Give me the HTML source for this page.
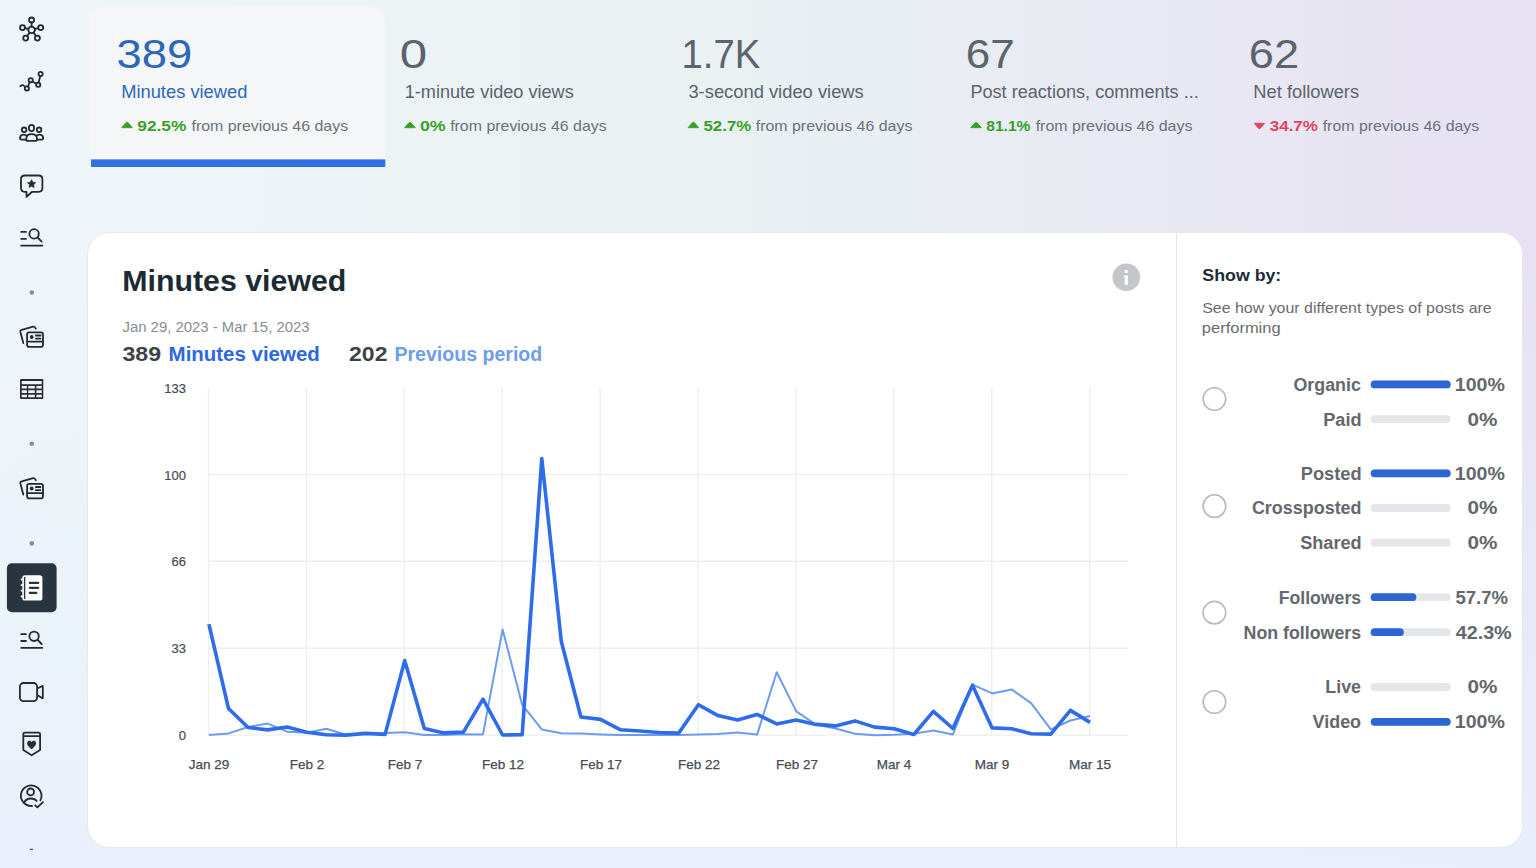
<!DOCTYPE html>
<html><head><meta charset="utf-8">
<style>
html,body{margin:0;padding:0;width:1536px;height:868px;overflow:hidden;}
body{font-family:"Liberation Sans",sans-serif;background:#edf2f5;}
#bg{position:absolute;left:0;top:0;width:1536px;height:868px;
background:linear-gradient(90deg,#eef6f9 0%,#e9f1f3 48%,#e7e1f2 100%);}
#bg2{position:absolute;left:0;top:0;width:1536px;height:868px;
background:linear-gradient(180deg,rgba(233,240,252,0) 0%,rgba(233,240,252,0) 25%,rgba(233,240,252,0.9) 100%);}
svg{position:absolute;left:0;top:0;}
</style></head>
<body>
<div id="bg"></div><div id="bg2"></div>
<svg width="1536" height="868" viewBox="0 0 1536 868" font-family="Liberation Sans, sans-serif">
<defs><filter id="sb" x="-5%" y="-5%" width="110%" height="110%"><feGaussianBlur stdDeviation="1.3"/></filter></defs>
<path d="M89.5,159.5 V22.5 A16,16 0 0 1 105.5,6.5 H369.3 A16,16 0 0 1 385.3,22.5 V159.5 Z" fill="#f5f6f8" filter="url(#sb)"/>
<rect x="91" y="159.4" width="294.3" height="7.6" fill="#3370e5"/>
<text x="116.50" y="67.8" font-size="40" fill="#2c68b6" textLength="75.69" lengthAdjust="spacingAndGlyphs">389</text>
<text x="121.19" y="98.4" font-size="18" fill="#2c68b6" textLength="126.20" lengthAdjust="spacingAndGlyphs">Minutes viewed</text>
<path d="M121.8,127.7 L125.7,123.1 Q127.1,121.6 128.5,123.1 L132.3,127.7 Z" fill="#3a9f2a" stroke="#3a9f2a" stroke-width="0.9" stroke-linejoin="round"/>
<text x="137.29" y="131" font-size="15" font-weight="bold" fill="#3a9f2a" textLength="49.15" lengthAdjust="spacingAndGlyphs">92.5%</text>
<text x="191.46" y="131" font-size="14.5" fill="#6c7178" textLength="156.71" lengthAdjust="spacingAndGlyphs">from previous 46 days</text>
<text x="399.73" y="67.8" font-size="40" fill="#5b636b" textLength="27.37" lengthAdjust="spacingAndGlyphs">0</text>
<text x="404.74" y="98.4" font-size="18" fill="#5b636b" textLength="168.99" lengthAdjust="spacingAndGlyphs">1-minute video views</text>
<path d="M404.7,127.7 L408.6,123.1 Q410.0,121.6 411.4,123.1 L415.2,127.7 Z" fill="#3a9f2a" stroke="#3a9f2a" stroke-width="0.9" stroke-linejoin="round"/>
<text x="419.99" y="131" font-size="15" font-weight="bold" fill="#3a9f2a" textLength="25.71" lengthAdjust="spacingAndGlyphs">0%</text>
<text x="450.16" y="131" font-size="14.5" fill="#6c7178" textLength="156.51" lengthAdjust="spacingAndGlyphs">from previous 46 days</text>
<text x="681.43" y="67.8" font-size="40" fill="#5b636b" textLength="78.84" lengthAdjust="spacingAndGlyphs">1.7K</text>
<text x="688.41" y="98.4" font-size="18" fill="#5b636b" textLength="175.34" lengthAdjust="spacingAndGlyphs">3-second video views</text>
<path d="M688.1,127.7 L692.0,123.1 Q693.4,121.6 694.8,123.1 L698.6,127.7 Z" fill="#3a9f2a" stroke="#3a9f2a" stroke-width="0.9" stroke-linejoin="round"/>
<text x="703.49" y="131" font-size="15" font-weight="bold" fill="#3a9f2a" textLength="47.74" lengthAdjust="spacingAndGlyphs">52.7%</text>
<text x="755.76" y="131" font-size="14.5" fill="#6c7178" textLength="156.61" lengthAdjust="spacingAndGlyphs">from previous 46 days</text>
<text x="965.80" y="67.8" font-size="40" fill="#5b636b" textLength="49.01" lengthAdjust="spacingAndGlyphs">67</text>
<text x="970.41" y="98.4" font-size="18" fill="#5b636b" textLength="228.34" lengthAdjust="spacingAndGlyphs">Post reactions, comments ...</text>
<path d="M970.8,127.7 L974.7,123.1 Q976.1,121.6 977.5,123.1 L981.3,127.7 Z" fill="#3a9f2a" stroke="#3a9f2a" stroke-width="0.9" stroke-linejoin="round"/>
<text x="986.19" y="131" font-size="15" font-weight="bold" fill="#3a9f2a" textLength="44.31" lengthAdjust="spacingAndGlyphs">81.1%</text>
<text x="1035.66" y="131" font-size="14.5" fill="#6c7178" textLength="156.71" lengthAdjust="spacingAndGlyphs">from previous 46 days</text>
<text x="1248.74" y="67.8" font-size="40" fill="#5b636b" textLength="50.33" lengthAdjust="spacingAndGlyphs">62</text>
<text x="1253.39" y="98.4" font-size="18" fill="#5b636b" textLength="105.75" lengthAdjust="spacingAndGlyphs">Net followers</text>
<path d="M1254.3,123.3 L1264.6,123.3 L1260.8,127.9 Q1259.5,129.4 1258.1,127.9 Z" fill="#e2445c" stroke="#e2445c" stroke-width="0.9" stroke-linejoin="round"/>
<text x="1269.72" y="131" font-size="15" font-weight="bold" fill="#e2445c" textLength="48.22" lengthAdjust="spacingAndGlyphs">34.7%</text>
<text x="1322.66" y="131" font-size="14.5" fill="#6c7178" textLength="156.61" lengthAdjust="spacingAndGlyphs">from previous 46 days</text>
<rect x="87.5" y="232.5" width="1435" height="615" rx="22" fill="#ffffff" stroke="#e6e8ec" stroke-width="1"/>
<line x1="1176.5" y1="233" x2="1176.5" y2="848" stroke="#e6e7ea" stroke-width="1"/>
<text x="122.25" y="290.8" font-size="29.5" font-weight="bold" fill="#1c2b33" textLength="224.14" lengthAdjust="spacingAndGlyphs">Minutes viewed</text>
<text x="122.48" y="331.8" font-size="14" fill="#8a8d91" textLength="187.08" lengthAdjust="spacingAndGlyphs">Jan 29, 2023 - Mar 15, 2023</text>
<text x="122.48" y="360.5" font-size="20" font-weight="bold" fill="#3e4246" textLength="38.66" lengthAdjust="spacingAndGlyphs">389</text>
<text x="168.62" y="360.5" font-size="20" font-weight="bold" fill="#2d68e0" textLength="151.13" lengthAdjust="spacingAndGlyphs">Minutes viewed</text>
<text x="349.09" y="360.5" font-size="20" font-weight="bold" fill="#3e4246" textLength="38.39" lengthAdjust="spacingAndGlyphs">202</text>
<text x="394.38" y="360.5" font-size="20" font-weight="bold" fill="#6d9deb" textLength="147.90" lengthAdjust="spacingAndGlyphs">Previous period</text>
<text x="1202.37" y="281" font-size="16" font-weight="bold" fill="#1c2b33" textLength="78.91" lengthAdjust="spacingAndGlyphs">Show by:</text>
<text x="1202.18" y="312.9" font-size="14.5" fill="#676b70" textLength="289.52" lengthAdjust="spacingAndGlyphs">See how your different types of posts are</text>
<text x="1201.83" y="332.5" font-size="14.5" fill="#676b70" textLength="78.80" lengthAdjust="spacingAndGlyphs">performing</text>
<circle cx="1126.3" cy="277.3" r="13.8" fill="#c4c6ca"/>
<rect x="1124.7" y="270.1" width="3.2" height="2.9" rx="0.8" fill="#ffffff"/>
<path d="M1123.8,275.4 H1127.9 V284.3 Q1127.9,285.1 1127.1,285.1 H1125.5 Q1124.7,285.1 1124.7,284.3 V276.8 H1123.8 Z" fill="#ffffff"/>
<g stroke="#eeeef0" stroke-width="1.4" fill="none">
<line x1="208" y1="474.4" x2="1128" y2="474.4"/>
<line x1="208" y1="561.3" x2="1128" y2="561.3"/>
<line x1="208" y1="648.2" x2="1128" y2="648.2"/>
<line x1="208" y1="735.1" x2="1128" y2="735.1"/>
<line x1="208.5" y1="387.6" x2="208.5" y2="735"/>
<line x1="306.4" y1="387.6" x2="306.4" y2="735"/>
<line x1="404.3" y1="387.6" x2="404.3" y2="735"/>
<line x1="502.2" y1="387.6" x2="502.2" y2="735"/>
<line x1="600.1" y1="387.6" x2="600.1" y2="735"/>
<line x1="698.0" y1="387.6" x2="698.0" y2="735"/>
<line x1="795.9" y1="387.6" x2="795.9" y2="735"/>
<line x1="893.8" y1="387.6" x2="893.8" y2="735"/>
<line x1="991.7" y1="387.6" x2="991.7" y2="735"/>
<line x1="1089.6" y1="387.6" x2="1089.6" y2="735"/>
</g>
<g font-size="13" fill="#484c53" stroke="#484c53" stroke-width="0.2" text-anchor="end">
<text x="186" y="392.9">133</text>
<text x="186" y="479.6">100</text>
<text x="186" y="566.4">66</text>
<text x="186" y="653.2">33</text>
<text x="186" y="740.4">0</text>
</g>
<g font-size="13.5" fill="#484c53" stroke="#484c53" stroke-width="0.25" text-anchor="middle">
<text x="209" y="769">Jan 29</text>
<text x="307" y="769">Feb 2</text>
<text x="405" y="769">Feb 7</text>
<text x="503" y="769">Feb 12</text>
<text x="601" y="769">Feb 17</text>
<text x="699" y="769">Feb 22</text>
<text x="797" y="769">Feb 27</text>
<text x="894" y="769">Mar 4</text>
<text x="992" y="769">Mar 9</text>
<text x="1090" y="769">Mar 15</text>
</g>
<polyline fill="none" stroke="#6c9ded" stroke-width="2" stroke-linejoin="round" stroke-linecap="butt" points="208.9,735.1 228.5,733.4 248.1,727.0 267.6,723.6 287.2,731.7 306.8,732.7 326.4,728.7 346.0,734.8 365.5,733.9 385.1,733.0 404.7,732.2 424.3,735.0 443.9,735.0 463.4,734.3 483.0,734.4 502.6,629.4 522.2,704.9 541.8,729.4 561.3,733.2 580.9,733.6 600.5,734.5 620.1,735.0 639.7,735.0 659.2,735.0 678.8,735.0 698.4,734.6 718.0,734.0 737.6,732.5 757.1,734.6 776.7,672.2 796.3,711.4 815.9,724.5 835.5,728.5 855.0,733.8 874.6,735.2 894.2,734.8 913.8,733.8 933.4,730.5 952.9,734.5 972.5,684.6 992.1,693.4 1011.7,689.4 1031.3,703.4 1050.8,729.4 1070.4,720.5 1090.0,716.0"/>
<polyline fill="none" stroke="#2e6cea" stroke-width="3.6" stroke-linejoin="round" stroke-linecap="butt" points="208.9,624.2 228.5,708.5 248.1,727.5 267.6,729.9 287.2,727.0 306.8,732.2 326.4,734.8 346.0,735.1 365.5,733.4 385.1,734.4 404.7,660.6 424.3,728.6 443.9,732.9 463.4,732.1 483.0,699.2 502.6,735.0 522.2,734.6 541.8,458.6 561.3,641.5 580.9,717.0 600.5,719.4 620.1,729.7 639.7,731.0 659.2,732.5 678.8,733.1 698.4,704.7 718.0,715.6 737.6,720.1 757.1,714.4 776.7,723.9 796.3,720.0 815.9,724.4 835.5,725.9 855.0,720.9 874.6,727.1 894.2,728.8 913.8,734.5 933.4,711.3 952.9,728.5 972.5,685.2 992.1,727.9 1011.7,728.7 1031.3,733.8 1050.8,734.1 1070.4,710.4 1090.0,722.4"/>
<text x="1293.49" y="390.8" font-size="18" font-weight="bold" fill="#63686e" textLength="67.43" lengthAdjust="spacingAndGlyphs">Organic</text>
<rect x="1370.7" y="380.5" width="80" height="7.8" rx="3.9" fill="#e4e6e9"/>
<rect x="1370.7" y="380.5" width="80" height="7.8" rx="3.9" fill="#2d66d2"/>
<text x="1454.78" y="390.8" font-size="18" font-weight="bold" fill="#63686e" textLength="50.07" lengthAdjust="spacingAndGlyphs">100%</text>
<text x="1323.27" y="425.5" font-size="18" font-weight="bold" fill="#63686e" textLength="38.34" lengthAdjust="spacingAndGlyphs">Paid</text>
<rect x="1370.7" y="415.2" width="80" height="7.8" rx="3.9" fill="#e4e6e9"/>
<text x="1467.47" y="425.5" font-size="18" font-weight="bold" fill="#63686e" textLength="29.90" lengthAdjust="spacingAndGlyphs">0%</text>
<text x="1300.77" y="479.7" font-size="18" font-weight="bold" fill="#63686e" textLength="60.85" lengthAdjust="spacingAndGlyphs">Posted</text>
<rect x="1370.7" y="469.4" width="80" height="7.8" rx="3.9" fill="#e4e6e9"/>
<rect x="1370.7" y="469.4" width="80" height="7.8" rx="3.9" fill="#2d66d2"/>
<text x="1454.78" y="479.7" font-size="18" font-weight="bold" fill="#63686e" textLength="50.07" lengthAdjust="spacingAndGlyphs">100%</text>
<text x="1251.88" y="514.4" font-size="18" font-weight="bold" fill="#63686e" textLength="109.68" lengthAdjust="spacingAndGlyphs">Crossposted</text>
<rect x="1370.7" y="504.1" width="80" height="7.8" rx="3.9" fill="#e4e6e9"/>
<text x="1467.47" y="514.4" font-size="18" font-weight="bold" fill="#63686e" textLength="29.90" lengthAdjust="spacingAndGlyphs">0%</text>
<text x="1300.16" y="549.1" font-size="18" font-weight="bold" fill="#63686e" textLength="61.43" lengthAdjust="spacingAndGlyphs">Shared</text>
<rect x="1370.7" y="538.8" width="80" height="7.8" rx="3.9" fill="#e4e6e9"/>
<text x="1467.47" y="549.1" font-size="18" font-weight="bold" fill="#63686e" textLength="29.90" lengthAdjust="spacingAndGlyphs">0%</text>
<text x="1278.71" y="603.6" font-size="18" font-weight="bold" fill="#63686e" textLength="82.40" lengthAdjust="spacingAndGlyphs">Followers</text>
<rect x="1370.7" y="593.3" width="80" height="7.8" rx="3.9" fill="#e4e6e9"/>
<rect x="1370.7" y="593.3" width="45.6" height="7.8" rx="3.9" fill="#2d66d2"/>
<text x="1455.44" y="603.6" font-size="18" font-weight="bold" fill="#63686e" textLength="52.63" lengthAdjust="spacingAndGlyphs">57.7%</text>
<text x="1243.60" y="638.6" font-size="18" font-weight="bold" fill="#63686e" textLength="117.54" lengthAdjust="spacingAndGlyphs">Non followers</text>
<rect x="1370.7" y="628.3" width="80" height="7.8" rx="3.9" fill="#e4e6e9"/>
<rect x="1370.7" y="628.3" width="33.1" height="7.8" rx="3.9" fill="#2d66d2"/>
<text x="1455.70" y="638.6" font-size="18" font-weight="bold" fill="#63686e" textLength="56.00" lengthAdjust="spacingAndGlyphs">42.3%</text>
<text x="1325.30" y="693.4" font-size="18" font-weight="bold" fill="#63686e" textLength="35.70" lengthAdjust="spacingAndGlyphs">Live</text>
<rect x="1370.7" y="683.1" width="80" height="7.8" rx="3.9" fill="#e4e6e9"/>
<text x="1467.47" y="693.4" font-size="18" font-weight="bold" fill="#63686e" textLength="29.90" lengthAdjust="spacingAndGlyphs">0%</text>
<text x="1312.57" y="728.2" font-size="18" font-weight="bold" fill="#63686e" textLength="48.50" lengthAdjust="spacingAndGlyphs">Video</text>
<rect x="1370.7" y="717.9" width="80" height="7.8" rx="3.9" fill="#e4e6e9"/>
<rect x="1370.7" y="717.9" width="80" height="7.8" rx="3.9" fill="#2d66d2"/>
<text x="1454.78" y="728.2" font-size="18" font-weight="bold" fill="#63686e" textLength="50.07" lengthAdjust="spacingAndGlyphs">100%</text>
<circle cx="1214.4" cy="399" r="11.3" fill="none" stroke="#b7b9bd" stroke-width="1.6"/>
<circle cx="1214.4" cy="506.1" r="11.3" fill="none" stroke="#b7b9bd" stroke-width="1.6"/>
<circle cx="1214.4" cy="612.7" r="11.3" fill="none" stroke="#b7b9bd" stroke-width="1.6"/>
<circle cx="1214.4" cy="702" r="11.3" fill="none" stroke="#b7b9bd" stroke-width="1.6"/>
  <!-- sidebar icons -->
  <g fill="none" stroke="#27292d" stroke-width="1.8" stroke-linecap="round" stroke-linejoin="round">
    <!-- hub -->
    <circle cx="31.6" cy="29.9" r="3.3"/>
    <circle cx="31.6" cy="20" r="2.5"/>
    <circle cx="22.5" cy="27.6" r="2.5"/>
    <circle cx="40.7" cy="27.6" r="2.5"/>
    <circle cx="25.7" cy="38.1" r="2.5"/>
    <circle cx="37.4" cy="38.1" r="2.5"/>
    <path d="M31.6,22.5V26.6 M25,28.2L28.4,29 M38.2,28.2L34.8,29 M27.1,36L29.7,32.6 M36,36L33.5,32.6"/>
    <!-- trend -->
    <path d="M20.4,86.2 Q22.6,83.8 24.6,86.4 M28,86.5L29.6,82.2 M32.4,81.4L36.3,83.8 M38.5,82.7L40.2,76.2"/>
    <circle cx="26.9" cy="88.4" r="2.1"/>
    <circle cx="30.7" cy="80.2" r="2.1"/>
    <circle cx="38.2" cy="84.8" r="2.1"/>
    <circle cx="40.6" cy="74" r="2.1"/>
    <!-- people -->
    <ellipse cx="31.5" cy="128" rx="2.6" ry="3.1"/>
    <circle cx="24.1" cy="129.8" r="2.3"/>
    <circle cx="39.1" cy="129.8" r="2.3"/>
    <path d="M26.2,139.2 Q26.2,134.2 31.6,134.2 Q37,134.2 37,139.2 Q37,140.9 35.4,140.9 H27.8 Q26.2,140.9 26.2,139.2 Z"/>
    <path d="M26.2,135.3 Q24.5,134.4 23.2,134.6 Q20,135 20,138.3 Q20,139.6 21.4,139.6 H26"/>
    <path d="M37,135.3 Q38.7,134.4 40,134.6 Q43.2,135 43.2,138.3 Q43.2,139.6 41.8,139.6 H37.2"/>
    <!-- bubble -->
    <path d="M24.7,175.5 H38.7 Q42.4,175.5 42.4,179.2 V188.1 Q42.4,191.8 38.7,191.8 H32.2 L26.5,196.8 V191.8 H24.7 Q21,191.8 21,188.1 V179.2 Q21,175.5 24.7,175.5 Z"/>
    <!-- search list -->
    <path d="M21.2,231.9H26 M21.2,238.8H26 M21.2,245.7H42.3 M37.6,237.5L41.7,241.6"/>
    <circle cx="34.1" cy="233.9" r="4.7"/>
    <!-- cards 1 -->
    <path d="M23.3,343.1 L20.4,332 Q20,330.3 21.7,329.9 L33.2,326.6 Q34.8,326.2 35.8,328.6"/>
    <rect x="27.1" y="332.4" width="15.9" height="14.5" rx="2.2"/>
    <path d="M27.1,341.7H43 M35.9,335.5H40.5 M35.9,338.6H40.5"/>
    <!-- cards 2 -->
    <path d="M23.3,494.6 L20.4,483.5 Q20,481.8 21.7,481.4 L33.2,478.1 Q34.8,477.7 35.8,480.1"/>
    <rect x="27.1" y="483.9" width="15.9" height="14.5" rx="2.2"/>
    <path d="M27.1,493.2H43 M35.9,487H40.5 M35.9,490.1H40.5"/>
    <!-- search list 2 -->
    <path d="M21.2,634.2H26 M21.2,641H26 M21.2,647.8H42.3 M37.6,639.9L41.7,644"/>
    <circle cx="34.1" cy="636.3" r="4.7"/>
    <!-- video -->
    <rect x="19.9" y="683" width="17.2" height="18.1" rx="3.6"/>
    <path d="M37.6,688.2 L42.6,686 Q42.8,686 42.8,686.5 V698 Q42.8,698.5 42.4,698.3 L37.6,695.2"/>
    <!-- badge -->
    <path d="M24.8,732.6 H38.6 Q40.1,732.6 40.1,734.1 V750.1 L31.6,755.3 L23.3,750.1 V734.1 Q23.3,732.6 24.8,732.6 Z M23.3,736.2H40.1"/>
    <!-- person -->
    <path d="M32,806 A10.3,10.3 0 1 1 40.4,800.3"/>
    <circle cx="30.6" cy="791.9" r="3.4"/>
    <path d="M24.2,802.6 Q26,798.5 30.6,798.5 Q34.8,798.5 36.6,800.9 M35.3,805.3 L37.4,807.4 L43,802.1"/>
  </g>
  <g fill="#27292d">
    <path d="M31.60,179.70 L32.86,182.26 L35.69,182.67 L33.64,184.66 L34.13,187.48 L31.60,186.15 L29.07,187.48 L29.56,184.66 L27.51,182.67 L30.34,182.26 Z" stroke="#27292d" stroke-width="0.7" stroke-linejoin="round"/>
    <circle cx="31.7" cy="337" r="1.9"/>
    <circle cx="31.7" cy="488.5" r="1.9"/>
    <path d="M31.6,749.2 C27,745.6 26.9,743.5 27.3,742.4 C27.8,740.5 30.6,740.2 31.6,742.2 C32.6,740.2 35.4,740.5 35.9,742.4 C36.3,743.5 36.2,745.6 31.6,749.2 Z" fill="#2b2d30"/>
    <!-- table -->
    <path fill-rule="evenodd" d="M21,379.1 H42.3 Q43.3,379.1 43.3,380.1 V398 Q43.3,399 42.3,399 H21 Q20,399 20,398 V380.1 Q20,379.1 21,379.1 Z
      M21.7,380.9 V384.2 H41.7 V380.9 Z
      M21.7,386.1 V388.6 H26.9 V386.1 Z M28.3,386.1 V388.6 H34.8 V386.1 Z M36.4,386.1 V388.6 H41.7 V386.1 Z
      M21.7,390.2 V393 H26.9 V390.2 Z M28.3,390.2 V393 H34.8 V390.2 Z M36.4,390.2 V393 H41.7 V390.2 Z
      M21.7,394.7 V397.3 H26.9 V394.7 Z M28.3,394.7 V397.3 H34.8 V394.7 Z M36.4,394.7 V397.3 H41.7 V394.7 Z" fill="#2b2d30"/>
    <!-- dots -->
    <circle cx="31.8" cy="292.5" r="2.3" fill="#8a8d91"/>
    <circle cx="31.8" cy="443.8" r="2.3" fill="#8a8d91"/>
    <circle cx="31.8" cy="543.4" r="2.3" fill="#8a8d91"/>
    <rect x="29.6" y="848.7" width="3.5" height="1.4" rx="0.6" fill="#55585d"/>
  </g>
  <!-- active -->
  <rect x="6.9" y="563.2" width="49.7" height="49.1" rx="5" fill="#283440"/>
  <g>
    <rect x="22.3" y="575.2" width="20.1" height="25.4" rx="2.6" fill="#ffffff"/>
    <path d="M24.6,577 V599" stroke="#283440" stroke-width="1.4"/>
    <g fill="#ffffff">
      <rect x="20.6" y="578.6" width="3" height="1.8" rx="0.8"/>
      <rect x="20.6" y="584.3" width="3" height="1.8" rx="0.8"/>
      <rect x="20.6" y="589.8" width="3" height="1.8" rx="0.8"/>
      <rect x="20.6" y="595.6" width="3" height="1.8" rx="0.8"/>
    </g>
    <path d="M29.8,582.9H38.2 M29.8,587.8H38.2 M29.8,592.9H36.3" stroke="#283440" stroke-width="2.2" stroke-linecap="round"/>
  </g>

</svg>
</body></html>
